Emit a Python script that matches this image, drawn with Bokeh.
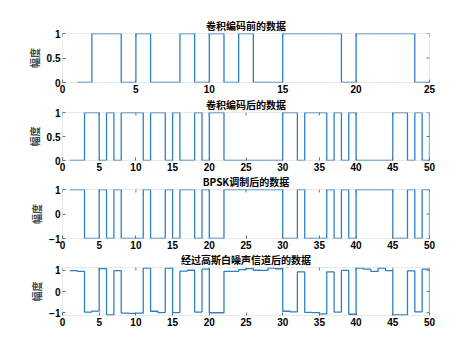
import math
from bokeh.plotting import figure
from bokeh.layouts import column
from bokeh.models import FixedTicker, Range1d, Title, BoxAnnotation
from bokeh.embed import file_html
from bokeh.resources import INLINE

# ---- data ----
x25 = list(range(1, 26))
x50 = list(range(1, 51))
bits_before = [0, 1, 1, 0, 1, 0, 0, 1, 0, 1, 0, 1, 0, 0, 1, 1, 1, 1, 0, 1, 1, 1, 1, 0, 0]
bits_after = [0, 0, 1, 1, 0, 1, 0, 1, 1, 1,
              0, 1, 1, 0, 1, 0, 0, 1, 0, 1,
              1, 0, 0, 0, 0, 0, 0, 0, 0, 1,
              1, 0, 1, 1, 1, 0, 1, 0, 1, 0,
              0, 0, 0, 0, 1, 1, 0, 1, 0, 1]
bpsk = [1, 1, -1, -1, 1, -1, 1, -1, -1, -1,
        1, -1, -1, 1, -1, 1, 1, -1, 1, -1,
        -1, 1, 1, 1, 1, 1, 1, 1, 1, -1,
        -1, 1, -1, -1, -1, 1, -1, 1, -1, 1,
        1, 1, 1, 1, -1, -1, 1, -1, 1, -1]
noisy = [0.98, 0.95, -0.97, -0.92, 1.08, -1.1, 0.98, -1.02, -1.03, -1.02,
         1.1, -0.93, -0.99, 1.1, -0.99, 0.96, 1.0, -0.97, 1.05, -1.0,
         -1.0, 0.95, 0.95, 1.03, 1.08, 1.0, 0.99, 1.1, 1.07, -0.93,
         -0.96, 0.92, -0.98, -0.99, -1.05, 0.92, -0.97, 0.99, -1.07, 1.1,
         1.05, 0.95, 1.1, 0.98, -1.1, -1.1, 0.97, -0.96, 1.05, -0.95]

titles = ["卷积编码前的数据", "卷积编码后的数据", "BPSK调制后的数据", "经过高斯白噪声信道后的数据"]
ylabel = "幅度"
xticks25 = [0, 5, 10, 15, 20, 25]
xticks50 = [0, 5, 10, 15, 20, 25, 30, 35, 40, 45, 50]
yticks01 = [0, 0.5, 1]
yticks11 = [-1, 0, 1]

LINE = "#2f7fc4"
FRAME = "#6e6e6e"
CJK = "Noto Sans CJK SC"
NUM = "Liberation Sans"


def make(xs, ys, title, xmax, yr, xt, yt, fh, bottom, mtop):
    p = figure(frame_width=367, frame_height=fh,
               min_border_left=62, min_border_right=45,
               min_border_top=33, min_border_bottom=bottom,
               x_range=Range1d(0, xmax), y_range=Range1d(*yr),
               output_backend="svg", toolbar_location=None, tools="",
               border_fill_color=None, margin=(mtop, 0, 0, 0))
    p.title = Title(text=title, align="center", text_font=CJK,
                    text_font_size="10px", text_font_style="bold",
                    text_color="black", standoff=2, offset=0)
    p.grid.visible = False
    p.outline_line_color = None
    p.add_layout(BoxAnnotation(fill_alpha=0, line_color=FRAME, line_width=1,
                               level="underlay"))
    # mirrored ticks on top and right edges
    p.ray(x=xt, y=[yr[1]] * len(xt), length=3, length_units="screen",
          angle=-math.pi / 2, line_color=FRAME, line_width=1)
    p.ray(x=[xmax] * len(yt), y=yt, length=3, length_units="screen",
          angle=math.pi, line_color=FRAME, line_width=1)
    p.step(xs, ys, mode="after", line_color=LINE, line_width=1.3)
    for ax, ticks in ((p.xaxis[0], xt), (p.yaxis[0], yt)):
        ax.ticker = FixedTicker(ticks=ticks)
        ax.major_tick_in = 3
        ax.major_tick_out = 0
        ax.minor_tick_in = 0
        ax.minor_tick_out = 0
        ax.axis_line_color = None
        ax.major_tick_line_color = FRAME
        ax.major_label_text_font = NUM
        ax.major_label_text_font_size = "10px"
        ax.major_label_text_font_style = "bold"
        ax.major_label_text_color = "black"
        ax.major_label_standoff = 2
    p.yaxis[0].axis_label = ylabel
    p.yaxis[0].axis_label_text_font = CJK
    p.yaxis[0].axis_label_text_font_size = "10px"
    p.yaxis[0].axis_label_text_font_style = "bold"
    p.yaxis[0].axis_label_standoff = 2
    return p


# frames: 33-82, 112-160, 189-238, 267-315
p1 = make(x25, bits_before, titles[0], 25, (0, 1), xticks25, yticks01, 49, 25, 0)
p2 = make(x50, bits_after, titles[1], 50, (0, 1), xticks50, yticks01, 48, 25, -28)
p3 = make(x50, bpsk, titles[2], 50, (-1, 1), xticks50, yticks11, 49, 25, -29)
p4 = make(x50, noisy, titles[3], 50, (-1.13, 1.13), xticks50, yticks11, 48, 40, -29)

p = column(p1, p2, p3, p4, spacing=0)
open("out.html", "w").write(file_html(p, INLINE))
